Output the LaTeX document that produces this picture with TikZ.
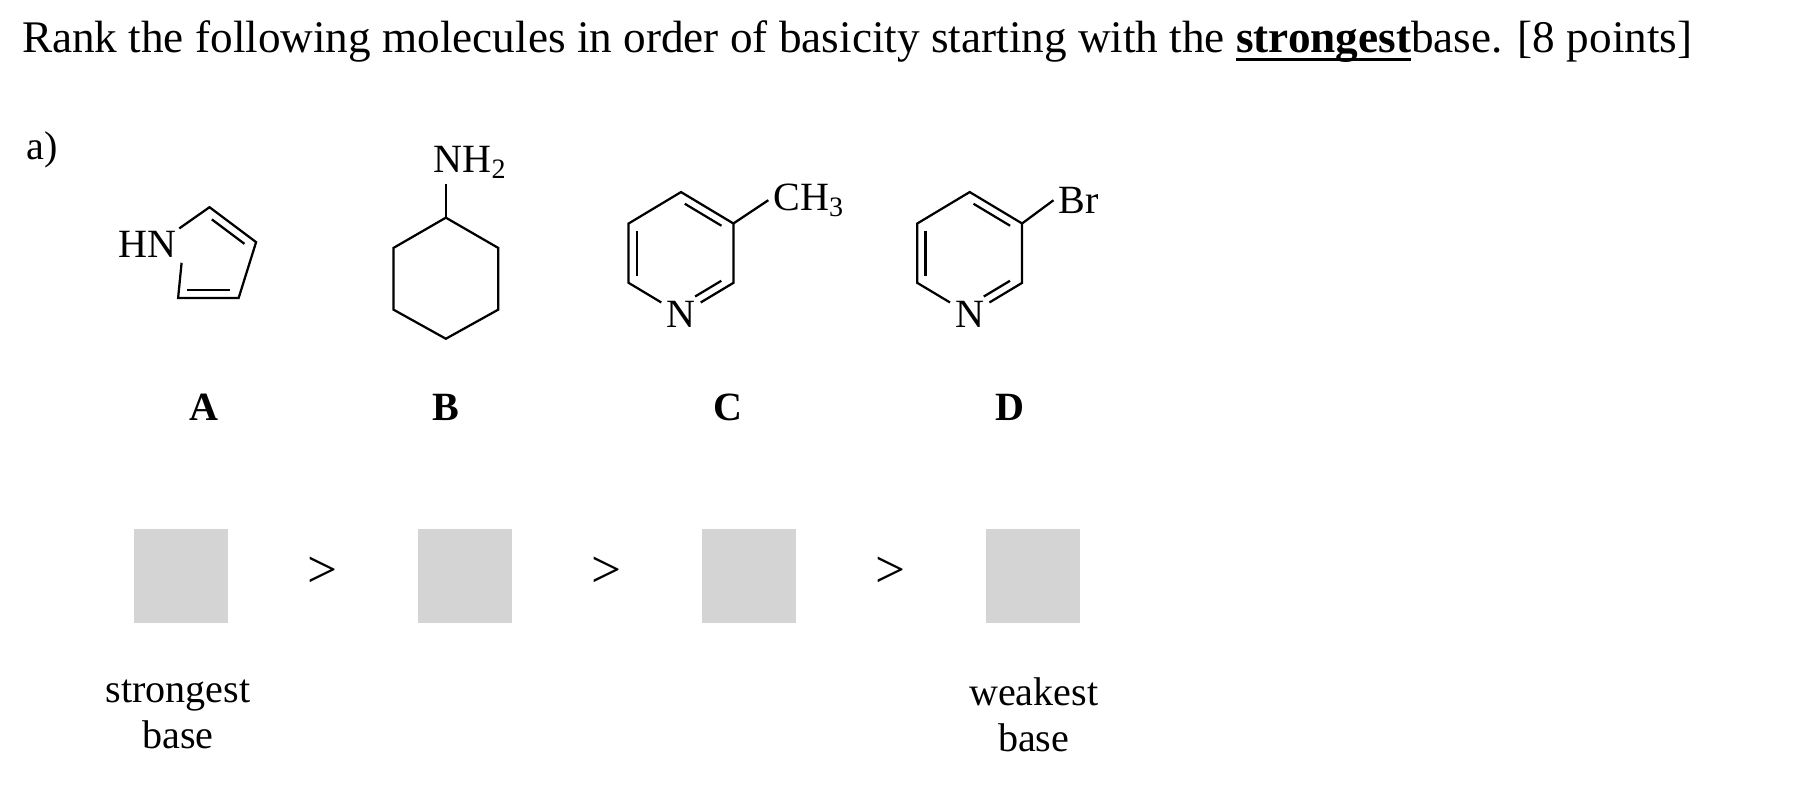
\documentclass[tikz,border=0pt]{standalone}
\usepackage{fontspec}
\setmainfont{Liberation Serif}
\usetikzlibrary{calc}
\newcommand{\thickul}[1]{\setbox0\hbox{#1}\rlap{\rule[-2.2pt]{\wd0}{0.9pt}}\box0}
\begin{document}
\begin{tikzpicture}[x=0.1mm,y=-0.1mm,line width=0.55pt,
  atom/.style={font=\fontsize{9.8}{11}\selectfont,inner sep=1pt},
  lab/.style={font=\fontsize{9.8}{11}\selectfont\bfseries},
  txt/.style={font=\fontsize{9.8}{11.3}\selectfont,align=center},
  box/.style={fill=black!17,minimum width=81*0.1mm,minimum height=81*0.1mm,inner sep=0pt}]
\useasboundingbox (0,0) rectangle (1560,679);
\node[anchor=base west,font=\fontsize{11.05}{13}\selectfont,inner sep=0] (title) at (18,45) {Rank the following molecules in order of basicity starting with the \thickul{\textbf{strongest}} base. [8 points]};
\node[anchor=base west,txt,inner sep=0] (ah) at (22,137) {a)};
% pyrrole
\node[atom,anchor=east] (hn) at (156,210) {HN};
\coordinate (p1) at (180,178); \coordinate (p2) at (220,208);
\coordinate (p3) at (205,256); \coordinate (p4) at (153,256);
\draw ($(hn.north east)+(-2,2)$) -- (p1) -- (p2) -- (p3) -- (p4) -- (hn.south east);
\draw ($(p1)!0.15!(p2)+(-4,6)$) -- ($(p1)!0.85!(p2)+(-4,6)$);
\draw ($(p4)!0.15!(p3)+(0,-7)$) -- ($(p4)!0.85!(p3)+(0,-7)$);
% cyclohexane
\draw (383,187) coordinate (b1) -- (428,213) -- (428,266) -- (383,291) -- (338,266) -- (338,213) -- cycle;
\node[atom,anchor=south west] (nh2) at (368,158) {NH\textsubscript{2}};
\draw (b1) -- (383,158);
% pyridines
\foreach \dx/\nm in {0/C,248/D}{
\begin{scope}[xshift=\dx*0.1mm]
\coordinate (t\nm) at (585,165); \coordinate (r1\nm) at (630,192);
\coordinate (r2\nm) at (630,243); \coordinate (l2\nm) at (540,243);
\coordinate (l1\nm) at (540,192);
\node[atom] (n\nm) at (585,270) {N};
\draw (n\nm) -- (l2\nm) -- (l1\nm) -- (t\nm) -- (r1\nm) -- (r2\nm) -- (n\nm);
\draw ($(l1\nm)!0.12!(l2\nm)+(7,0)$) -- ($(l1\nm)!0.88!(l2\nm)+(7,0)$);
\draw ($(t\nm)!0.15!(r1\nm)+(-3.5,6)$) -- ($(t\nm)!0.85!(r1\nm)+(-3.5,6)$);
\draw ($(r2\nm)!0.12!(n\nm)+(-5,-5)$) -- ($(r2\nm)!0.62!(n\nm)+(-5,-5)$);
\end{scope}}
\node[atom,anchor=west] (ch3) at (660,172) {CH\textsubscript{3}};
\draw (r1C) -- (ch3.west);
\node[atom,anchor=west] (br) at (905,172) {Br};
\draw (r1D) -- (br.west);
% labels
\node[lab] (la) at (175,350) {A};
\node[lab] (lb) at (383,350) {B};
\node[lab] (lc) at (625,350) {C};
\node[lab] (ld) at (868,350) {D};
% boxes
\node[box] (s1) at (155.5,495) {};
\node[box] (s2) at (399.5,495) {};
\node[box] (s3) at (643.5,495) {};
\node[box] (s4) at (887.5,495) {};
\node[txt,font=\fontsize{13}{14}\selectfont] (g1) at (277,492) {>};
\node[txt,font=\fontsize{13}{14}\selectfont] (g2) at (521,492) {>};
\node[txt,font=\fontsize{13}{14}\selectfont] (g3) at (765,492) {>};
\node[txt] (st) at (153,614) {strongest\\base};
\node[txt] (wk) at (888,614) {weakest\\base};
\end{tikzpicture}
\end{document}
